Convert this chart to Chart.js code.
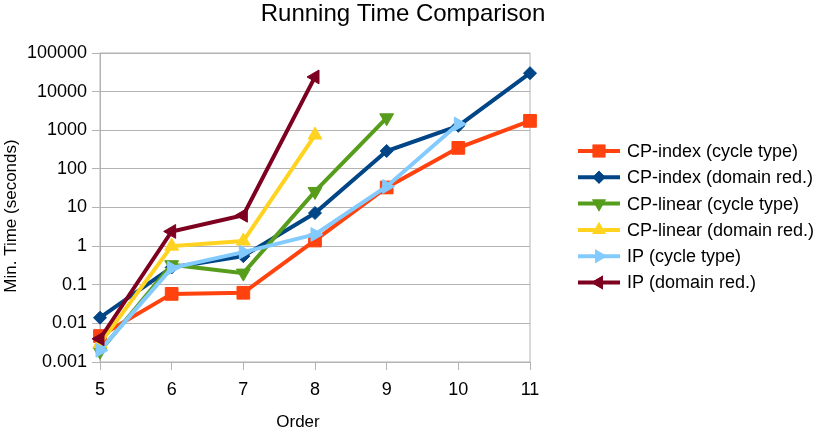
<!DOCTYPE html>
<html>
<head>
<meta charset="utf-8">
<script src="https://cdn.jsdelivr.net/npm/chart.js@4"></script>
<style>
  html, body { margin: 0; padding: 0; background: #fff; }
  #wrap { width: 818px; height: 433px; }
</style>
</head>
<body>
<div id="wrap"><canvas id="timeChart" width="818" height="433"></canvas></div>
<script>
// order of the problem (x axis)
const orders = ['5', '6', '7', '8', '9', '10', '11'];

// minimum running time in seconds, null = not run
const cpIndexCycle   = [0.0047, 0.058, 0.062, 1.4, 33, 350, 1750];
const cpIndexDomain  = [0.0140, 0.28, 0.55, 7.2, 290, 1300, 30000];
const cpLinearCycle  = [0.0019, 0.33, 0.20, 26, 2100, null, null];
const cpLinearDomain = [0.0030, 1.0, 1.35, 750, null, null, null];
const ipCycle        = [0.0020, 0.27, 0.70, 2.0, 35, 1450, null];
const ipDomain       = [0.0040, 2.4, 6.3, 24000, null, null, null];

const seriesNames = [
    'CP-index (cycle type)',
    'CP-index (domain red.)',
    'CP-linear (cycle type)',
    'CP-linear (domain red.)',
    'IP (cycle type)',
    'IP (domain red.)'
];

const yTicks = [0.001, 0.01, 0.1, 1, 10, 100, 1000, 10000, 100000];

const chartTitle = 'Running Time Comparison';
const xTitle = 'Order';
const yTitle = 'Min. Time (seconds)';

const FONT = 'Liberation Sans, Arial, sans-serif';

function makeSet(i, values, color, style, rotation, radius) {
    return {
        label: seriesNames[i],
        data: values,
        borderColor: color,
        backgroundColor: color,
        borderWidth: 4,
        pointStyle: style,
        pointRotation: rotation,
        pointRadius: radius,
        pointBorderWidth: 1,
        pointHoverRadius: radius,
        tension: 0,
        fill: false,
        order: 6 - i
    };
}

// titles are placed like the original (main title over the whole page)
const titles = {
    id: 'titles',
    afterDraw(chart) {
        const ctx = chart.ctx;
        ctx.save();
        ctx.fillStyle = '#000';
        ctx.textAlign = 'center';
        ctx.textBaseline = 'alphabetic';
        ctx.font = '24px ' + FONT;
        ctx.fillText(chartTitle, 403, 21);

        ctx.font = '17px ' + FONT;
        ctx.textBaseline = 'middle';
        ctx.fillText(xTitle, 298, 422);

        ctx.translate(11, 216);
        ctx.rotate(-Math.PI / 2);
        ctx.fillText(yTitle, 0, 0);
        ctx.restore();
    }
};

// legend at the right: a short line with the marker, then the name
const sideLegend = {
    id: 'sideLegend',
    afterDraw(chart) {
        const ctx = chart.ctx;
        const x0 = 578, x1 = 620, top = 151, step = 26.3;
        ctx.save();
        chart.data.datasets.forEach(function (ds, i) {
            const y = top + i * step;
            ctx.strokeStyle = ds.borderColor;
            ctx.lineWidth = 4;
            ctx.beginPath();
            ctx.moveTo(x0, y);
            ctx.lineTo(x1, y);
            ctx.stroke();
            ctx.fillStyle = ds.backgroundColor;
            Chart.helpers.drawPoint(ctx, {
                pointStyle: ds.pointStyle,
                rotation: ds.pointRotation,
                radius: ds.pointRadius,
                borderWidth: 0
            }, (x0 + x1) / 2, y);
            ctx.fill();
            ctx.fillStyle = '#000';
            ctx.font = '18px ' + FONT;
            ctx.textBaseline = 'middle';
            ctx.textAlign = 'left';
            ctx.fillText(ds.label, 627, y + 1);
        });
        ctx.restore();
    }
};

// grey frame around the plot area
const plotFrame = {
    id: 'plotFrame',
    beforeDatasetsDraw(chart) {
        const a = chart.chartArea;
        const ctx = chart.ctx;
        ctx.save();
        ctx.strokeStyle = '#b3b3b3';
        ctx.lineWidth = 1;
        ctx.strokeRect(a.left, a.top, a.right - a.left, a.bottom - a.top);
        ctx.restore();
    }
};

const ctx = document.getElementById('timeChart').getContext('2d');
new Chart(ctx, {
    type: 'line',
    data: {
        labels: orders,
        datasets: [
            makeSet(0, cpIndexCycle, '#ff420e', 'rect', 0, 9),
            makeSet(1, cpIndexDomain, '#004586', 'rectRot', 0, 6.5),
            makeSet(2, cpLinearCycle, '#579d1c', 'triangle', 180, 8),
            makeSet(3, cpLinearDomain, '#ffd320', 'triangle', 0, 8),
            makeSet(4, ipCycle, '#83caff', 'triangle', 90, 8),
            makeSet(5, ipDomain, '#7e0021', 'triangle', 270, 8)
        ]
    },
    options: {
        responsive: false,
        animation: false,
        layout: { padding: { left: 0, right: 288, top: 53, bottom: 0 } },
        plugins: {
            legend: { display: false },
            tooltip: { enabled: false },
            title: { display: false }
        },
        scales: {
            x: {
                type: 'category',
                offset: false,
                afterFit: function (scale) { scale.height = 71; },
                grid: {
                    display: true,
                    drawOnChartArea: false,
                    drawTicks: true,
                    tickLength: 8,
                    color: '#b3b3b3'
                },
                border: { color: '#b3b3b3' },
                ticks: {
                    color: '#000',
                    font: { family: FONT, size: 18 },
                    padding: 9,
                    maxRotation: 0
                }
            },
            y: {
                type: 'logarithmic',
                min: 0.001,
                max: 100000,
                afterFit: function (scale) { scale.width = 100; },
                afterBuildTicks: function (scale) {
                    scale.ticks = yTicks.map(function (v) { return { value: v }; });
                },
                grid: {
                    color: '#b3b3b3',
                    tickLength: 8
                },
                border: { color: '#b3b3b3' },
                ticks: {
                    color: '#000',
                    font: { family: FONT, size: 18 },
                    padding: 5,
                    callback: function (v) { return String(v); }
                }
            }
        }
    },
    plugins: [plotFrame, sideLegend, titles]
});
</script>
</body>
</html>
